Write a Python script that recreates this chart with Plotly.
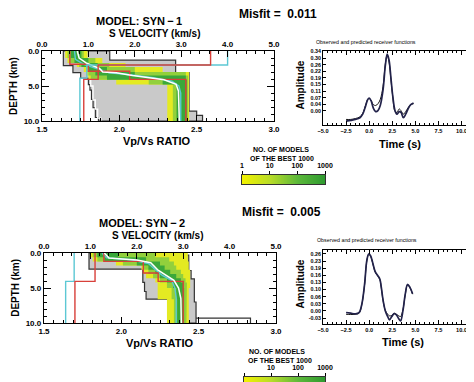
import plotly.graph_objects as go

W, H = 474, 382
FONT = "Liberation Sans, Arial, Helvetica, sans-serif"

# ====================== DATA ======================
# ---------- SYN-1 : S-velocity ensemble bands (km/s) ----------
syn1_band_depth = [0.0, 1.0, 1.7, 2.3, 3.0, 3.5, 4.1, 4.8, 10.0]
syn1_yellow_lo = [0.50, 0.55, 0.75, 0.90, 0.95, 1.00, 1.60, 2.70]
syn1_yellow_hi = [0.98, 1.30, 1.80, 2.60, 3.17, 3.17, 3.17, 3.17]
syn1_lgreen_lo = [0.55, 0.60, 0.80, 0.95, 1.00, 1.05, 2.30, 2.82]
syn1_lgreen_hi = [0.90, 1.15, 1.45, 2.00, 3.10, 3.15, 3.15, 3.15]
syn1_dgreen_lo = [0.62, 0.70, 0.85, 1.00, 1.15, 1.40, 2.60, 2.90]
syn1_dgreen_hi = [0.85, 1.00, 1.20, 1.40, 2.00, 3.10, 3.12, 3.12]
# best (white) and cyan S-velocity profiles
syn1_best_v = [0.76, 0.80, 0.95, 1.09, 1.24, 1.31, 1.60, 1.95, 2.31, 2.63, 2.89, 2.94, 2.96]
syn1_best_d = [0.0, 1.0, 1.7, 2.1, 2.5, 3.0, 3.1, 3.5, 3.86, 4.1, 4.76, 5.7, 10.0]
syn1_scyan_v = [0.70, 0.72, 0.90, 1.10, 1.30, 1.45, 1.90, 2.40, 2.80, 2.95, 2.99, 2.99]
syn1_scyan_d = [0.0, 1.2, 1.9, 2.3, 2.7, 3.1, 3.4, 3.8, 4.3, 5.0, 6.0, 10.0]
# red S-velocity model (layers)
syn1_sred_depth = [0.0, 1.9, 2.9, 4.05, 10.0]
syn1_sred_v = [0.60, 1.00, 1.89, 3.10]
# Vp/Vs ensemble envelope (gray) per layer
syn1_env_depth = [0.0, 1.3, 2.1, 3.1, 3.9, 4.8, 5.6, 6.9, 8.1, 8.6, 9.2, 9.5, 10.0]
syn1_env_lo = [1.638, 1.638, 1.70, 1.75, 1.80, 1.81, 1.82, 1.83, 1.845, 1.845, 1.845, 1.865]
syn1_env_hi = [1.938, 2.364, 2.364, 2.451, 2.451, 2.451, 2.451, 2.451, 2.451, 2.50, 2.538, 2.538]
# best Vp/Vs (white, jagged)
syn1_rbest_depth = [3.9, 5.0, 7.0, 8.3, 9.6, 10.0]
syn1_rbest_r = [1.815, 1.83, 1.845, 1.86, 1.88]
# red / cyan Vp/Vs models (layers)
syn1_rred_depth = [0.0, 2.0, 4.05, 10.0]
syn1_rred_r = [2.59, 1.863, 1.77]
syn1_rcyan_depth = [0.0, 2.0, 3.9, 10.0]
syn1_rcyan_r = [2.70, 1.79, 1.745]

# ---------- SYN-2 ----------
syn2_band_depth = [0.0, 0.6, 1.2, 1.8, 2.4, 3.0, 3.6, 4.2, 5.0, 6.6, 10.0]
syn2_yellow_lo = [1.00, 1.05, 1.55, 2.10, 2.15, 2.20, 2.40, 2.45, 2.45, 2.65]
syn2_yellow_hi = [3.10, 3.10, 3.12, 3.12, 3.15, 3.15, 3.15, 3.15, 3.12, 3.12]
syn2_lgreen_lo = [1.05, 1.15, 1.70, 2.15, 2.25, 2.35, 2.50, 2.65, 2.75, 2.80]
syn2_lgreen_hi = [2.40, 2.70, 2.80, 2.85, 2.95, 3.00, 3.05, 3.08, 3.08, 3.07]
syn2_dgreen_lo = [1.15, 1.30, 2.00, 2.25, 2.40, 2.50, 2.65, 2.78, 2.85, 2.87]
syn2_dgreen_hi = [1.60, 2.20, 2.50, 2.60, 2.72, 2.85, 2.95, 3.00, 3.02, 3.02]
syn2_best_v = [1.30, 1.40, 2.00, 2.30, 2.45, 2.65, 2.80, 2.90, 2.95, 2.96]
syn2_best_d = [0.0, 0.7, 1.0, 1.4, 2.4, 3.2, 3.9, 5.0, 6.5, 10.0]
syn2_scyan_v = [1.25, 1.35, 1.90, 2.25, 2.40, 2.55, 2.75, 2.82, 2.85, 2.85]
syn2_scyan_d = [0.0, 0.7, 1.0, 1.5, 2.4, 3.2, 3.9, 5.0, 6.5, 10.0]
syn2_sred_depth = [0.0, 1.19, 2.86, 4.05, 10.0]
syn2_sred_v = [1.29, 2.14, 2.46, 3.00]
syn2_env_depth = [0.0, 0.3, 2.3, 2.5, 3.7, 4.2, 5.5, 6.6, 7.0, 9.3, 10.0]
syn2_env_lo = [1.791, 1.791, 2.139, 2.139, 2.139, 2.15, 2.16, 2.334, 2.334, 2.334]
syn2_env_hi = [2.418, 2.436, 2.436, 2.451, 2.472, 2.472, 2.472, 2.472, 2.483, 2.483]
syn2_box_r = [2.483, 2.835, 2.835]
syn2_box_d = [9.3, 9.3, 10.0]
syn2_rred_depth = [0.0, 4.05, 10.0]
syn2_rred_r = [1.83, 1.70]
syn2_rcyan_depth = [0.0, 4.05, 10.0]
syn2_rcyan_r = [1.695, 1.64]

# ---------- receiver functions ----------
rf1_t = [-2.5, -2.0, -1.5, -1.0, -0.7, -0.4, -0.15, 0.0, 0.2, 0.45, 0.7, 0.95, 1.2, 1.5,
         1.75, 1.95, 2.15, 2.35, 2.55, 2.8, 3.0, 3.25, 3.45, 3.7, 3.95, 4.25, 4.5, 4.8]
rf1_obs = [-0.060, -0.055, -0.050, -0.040, -0.020, 0.025, 0.065, 0.073, 0.058, 0.015, -0.005,
           0.000, 0.030, 0.120, 0.260, 0.325, 0.290, 0.190, 0.085, 0.000, -0.020, -0.005,
           -0.010, -0.040, -0.020, 0.015, 0.035, 0.045]
rf1_pred = [-0.050, -0.050, -0.045, -0.035, -0.015, 0.030, 0.066, 0.070, 0.060, 0.035, 0.030,
            0.040, 0.065, 0.140, 0.270, 0.320, 0.280, 0.180, 0.080, -0.005, -0.010, 0.010,
            0.000, -0.020, -0.005, 0.020, 0.035, 0.040]
rf2_t = [-2.5, -2.0, -1.5, -1.1, -0.8, -0.5, -0.25, -0.05, 0.15, 0.4, 0.65, 0.9, 1.15, 1.3,
         1.5, 1.75, 2.0, 2.2, 2.45, 2.7, 2.95, 3.2, 3.4, 3.65, 3.9, 4.15, 4.4, 4.7]
rf2_obs = [-0.007, -0.010, -0.013, -0.008, 0.030, 0.120, 0.230, 0.258, 0.250, 0.215, 0.178,
           0.162, 0.145, 0.110, 0.050, 0.000, -0.025, -0.040, -0.025, -0.012, -0.018, -0.035,
           -0.045, 0.000, 0.075, 0.120, 0.108, 0.078]
rf2_pred = [-0.015, -0.016, -0.015, -0.010, 0.028, 0.118, 0.228, 0.256, 0.248, 0.213, 0.176,
            0.160, 0.143, 0.108, 0.048, 0.002, -0.015, -0.022, -0.020, -0.010, -0.015, -0.022,
            -0.025, 0.005, 0.072, 0.118, 0.106, 0.076]
rf1_ytickvals = [0.0, 0.038, 0.075, 0.113, 0.151, 0.189, 0.226, 0.264, 0.302, 0.34]
rf1_yticktext = ["0.00", "0.04", "0.07", "0.11", "0.15", "0.19", "0.22", "0.26", "0.30", "0.34"]
rf2_ytickvals = [-0.032, 0.0, 0.032, 0.064, 0.097, 0.129, 0.161, 0.193, 0.226, 0.258]
rf2_yticktext = ["-0.03", "0.00", "0.03", "0.06", "0.10", "0.13", "0.16", "0.19", "0.23", "0.26"]

# colour bar (log10 of number of models)
cb_log = [0, 1, 2, 3]
cb_labels_top = ["1", "10", "100", "1000"]
cb_labels_bot = ["", "10", "100", "1000"]

# ====================== STYLE ======================
YELLOW = "#e4ea22"
LGREEN = "#92d03c"
DGREEN = "#3aa83a"
GRAY = "#c9c9c9"
RED = "#d8403a"
CYAN = "#5cc8d4"
CSCALE = [[0, "#f2f200"], [0.33, "#b8dc28"], [0.67, "#5cb83a"], [1, "#2e9a30"]]


def steps_poly(depths, lo, hi):
    xs, ys = [], []
    for i in range(len(lo)):
        xs += [hi[i], hi[i]]
        ys += [depths[i], depths[i + 1]]
    for i in range(len(lo) - 1, -1, -1):
        xs += [lo[i], lo[i]]
        ys += [depths[i + 1], depths[i]]
    xs.append(xs[0]); ys.append(ys[0])
    return xs, ys


def steps_line(depths, vals):
    xs, ys = [], []
    for i, v in enumerate(vals):
        xs += [v, v]
        ys += [depths[i], depths[i + 1]]
    return xs, ys


fig = go.Figure()


def add_model_panel(xr, xv, xo, yy, band_d, bands, env, env_line_extra, rbest,
                    rcyan, rred, scyan, sred, best):
    ex, ey = steps_poly(*env)
    fig.add_trace(go.Scatter(x=ex, y=ey, xaxis=xr, yaxis=yy, mode="lines", fill="toself",
                             fillcolor=GRAY, line=dict(color="#333333", width=1.2),
                             hoverinfo="skip"))
    if env_line_extra is not None:
        fig.add_trace(go.Scatter(x=env_line_extra[0], y=env_line_extra[1], xaxis=xr, yaxis=yy,
                                 mode="lines", line=dict(color="#333333", width=1.2),
                                 hoverinfo="skip"))
    if rbest is not None:
        bx, by = steps_line(*rbest)
        fig.add_trace(go.Scatter(x=bx, y=by, xaxis=xr, yaxis=yy, mode="lines",
                                 line=dict(color="white", width=1.3), hoverinfo="skip"))
    for (lo, hi), col in zip(bands, [YELLOW, LGREEN, DGREEN]):
        px_, py_ = steps_poly(band_d, lo, hi)
        fig.add_trace(go.Scatter(x=px_, y=py_, xaxis=xv, yaxis=yy, mode="lines", fill="toself",
                                 fillcolor=col, line=dict(width=0), hoverinfo="skip"))
    fig.add_trace(go.Scatter(x=scyan[0], y=scyan[1], xaxis=xv, yaxis=yy, mode="lines",
                             line=dict(color=CYAN, width=1.4), hoverinfo="skip"))
    sx, sy = steps_line(*sred)
    fig.add_trace(go.Scatter(x=sx, y=sy, xaxis=xv, yaxis=yy, mode="lines",
                             line=dict(color=RED, width=1.4), hoverinfo="skip"))
    fig.add_trace(go.Scatter(x=best[0], y=best[1], xaxis=xv, yaxis=yy, mode="lines",
                             line=dict(color="white", width=1.5), hoverinfo="skip"))
    cx, cy = steps_line(*rcyan)
    fig.add_trace(go.Scatter(x=cx, y=cy, xaxis=xo, yaxis=yy, mode="lines",
                             line=dict(color=CYAN, width=1.4), hoverinfo="skip"))
    rx, ry = steps_line(*rred)
    fig.add_trace(go.Scatter(x=rx, y=ry, xaxis=xo, yaxis=yy, mode="lines",
                             line=dict(color=RED, width=1.4), hoverinfo="skip"))


add_model_panel("x", "x2", "x3", "y", syn1_band_depth,
                [(syn1_yellow_lo, syn1_yellow_hi), (syn1_lgreen_lo, syn1_lgreen_hi),
                 (syn1_dgreen_lo, syn1_dgreen_hi)],
                (syn1_env_depth, syn1_env_lo, syn1_env_hi), None,
                (syn1_rbest_depth, syn1_rbest_r),
                (syn1_rcyan_depth, syn1_rcyan_r), (syn1_rred_depth, syn1_rred_r),
                (syn1_scyan_v, syn1_scyan_d), (syn1_sred_depth, syn1_sred_v),
                (syn1_best_v, syn1_best_d))
add_model_panel("x4", "x5", "x6", "y2", syn2_band_depth,
                [(syn2_yellow_lo, syn2_yellow_hi), (syn2_lgreen_lo, syn2_lgreen_hi),
                 (syn2_dgreen_lo, syn2_dgreen_hi)],
                (syn2_env_depth, syn2_env_lo, syn2_env_hi), (syn2_box_r, syn2_box_d),
                None,
                (syn2_rcyan_depth, syn2_rcyan_r), (syn2_rred_depth, syn2_rred_r),
                (syn2_scyan_v, syn2_scyan_d), (syn2_sred_depth, syn2_sred_v),
                (syn2_best_v, syn2_best_d))

for xa, ya, t, obs, pred in [("x7", "y3", rf1_t, rf1_obs, rf1_pred),
                             ("x8", "y4", rf2_t, rf2_obs, rf2_pred)]:
    fig.add_trace(go.Scatter(x=t, y=pred, xaxis=xa, yaxis=ya, mode="lines", line_shape="spline",
                             line=dict(color="#111111", width=1.0), hoverinfo="skip"))
    fig.add_trace(go.Scatter(x=t, y=obs, xaxis=xa, yaxis=ya, mode="lines", line_shape="spline",
                             line=dict(color="#22224a", width=1.7), hoverinfo="skip"))

for xa, ya in [("x9", "y5"), ("x10", "y6")]:
    fig.add_trace(go.Heatmap(z=[cb_log, cb_log], x=cb_log, y=[-0.5, 0.5], xaxis=xa, yaxis=ya,
                             zsmooth="best", colorscale=CSCALE, zmin=0, zmax=3,
                             showscale=False, hoverinfo="skip"))


def px_x(a, b):
    return [a / W, b / W]


def px_y(top, bot):
    return [1 - bot / H, 1 - top / H]


tickf = dict(family=FONT, size=8, color="black", weight="bold")
small_tf = dict(family=FONT, size=5.3, color="black", weight="bold")
base_axis = dict(showgrid=False, zeroline=False, showline=True, linecolor="black",
                 linewidth=1.3, ticks="inside", tickcolor="black", automargin=False)

layout_axes = {}
nx_ref = {"": "x", "2": "x2", "3": "x3", "4": "x4", "5": "x5", "6": "x6"}
ny_ref = {"": "y", "2": "y2"}


def model_axes(nr, nv, no, ny, xdom, ydom):
    layout_axes["xaxis" + nr] = dict(base_axis, domain=xdom, range=[1.5, 3.0], anchor=ny_ref[ny],
                                     tick0=1.5, dtick=0.5, tickformat=".1f", ticklen=6,
                                     tickfont=tickf,
                                     minor=dict(ticks="inside", ticklen=3, dtick=0.0625,
                                                tick0=1.5, tickcolor="black"))
    layout_axes["xaxis" + nv] = dict(base_axis, range=[0, 5], overlaying=nx_ref[nr],
                                     anchor=ny_ref[ny], side="top", dtick=1, tickformat=".1f",
                                     ticklen=6, tickfont=tickf,
                                     minor=dict(ticks="inside", ticklen=3, dtick=0.2,
                                                tickcolor="black"))
    layout_axes["xaxis" + no] = dict(range=[1.5, 3.0], overlaying=nx_ref[nr], anchor=ny_ref[ny],
                                     visible=False, automargin=False)
    layout_axes["yaxis" + ny] = dict(base_axis, domain=ydom, range=[10, 0], anchor=nx_ref[nr],
                                     dtick=5, tickformat=".1f", ticklen=7, mirror="ticks",
                                     tickfont=tickf,
                                     minor=dict(ticks="inside", ticklen=3, dtick=1,
                                                tickcolor="black"))


model_axes("", "2", "3", "", px_x(34, 266), px_y(43, 113))
model_axes("4", "5", "6", "2", px_x(36, 268), px_y(245, 315))

for nx, ny, ydom, yr, tv, tt in [("7", "3", px_y(43, 117), [-0.082, 0.343], rf1_ytickvals, rf1_yticktext),
                                  ("8", "4", px_y(242, 316), [-0.059, 0.276], rf2_ytickvals, rf2_yticktext)]:
    layout_axes["xaxis" + nx] = dict(base_axis, domain=px_x(315, 472.5), range=[-5, 12.05],
                                     anchor="y" + ny, tick0=-5, dtick=2.5, tickformat=".1f",
                                     ticklen=4, linewidth=1.1, mirror="ticks",
                                     tickfont=dict(small_tf, size=5.6),
                                     minor=dict(ticks="inside", ticklen=2, dtick=0.5,
                                                tickcolor="black"))
    layout_axes["yaxis" + ny] = dict(base_axis, domain=ydom, range=yr, anchor="x" + nx,
                                     tickvals=tv, ticktext=tt, ticklen=3, linewidth=1.1,
                                     mirror="ticks", tickfont=small_tf)

for nx, ny, xdom, ydom, labels in [("9", "5", px_x(234, 317), px_y(167, 176), cb_labels_top),
                                   ("10", "6", px_x(236, 317), px_y(369, 379), cb_labels_bot)]:
    layout_axes["xaxis" + nx] = dict(showgrid=False, zeroline=False, showline=True,
                                     linecolor="#333333", linewidth=1, mirror=True,
                                     domain=xdom, range=[0, 3], anchor="y" + ny, side="top",
                                     tickvals=cb_log, ticktext=labels, ticks="outside",
                                     ticklen=3, tickcolor="black", automargin=False,
                                     tickfont=dict(family=FONT, size=7, color="black",
                                                   weight="bold"))
    layout_axes["yaxis" + ny] = dict(showgrid=False, zeroline=False, showline=True,
                                     linecolor="#333333", linewidth=1, mirror=True,
                                     domain=ydom, range=[-0.5, 0.5], anchor="x" + nx,
                                     showticklabels=False, ticks="", automargin=False)

annotations = []


def ann(text, x, y, size, bold=True, angle=0):
    annotations.append(dict(text=text, x=x / W, y=1 - y / H, xref="paper", yref="paper",
                            showarrow=False, xanchor="center", yanchor="middle",
                            textangle=angle,
                            font=dict(family=FONT, size=size, color="black",
                                      weight="bold" if bold else "normal")))


for dy, dx, name, mis in [(0, 0, "SYN\u2009\u2212\u20091", "0.011"),
                          (202, 3, "SYN\u2009\u2212\u20092", "0.005")]:
    ann("Misfit = \u00a0" + mis, 270 + dx, 6 + dy * 0.98, 12)
    ann("MODEL: " + name, 131 + dx, 13 + dy, 11)
    ann("S VELOCITY (km/s)", 146.5 + dx, 25.5 + dy, 10)
    ann("DEPTH (km)", 5 + dx * 0.6, 78 + dy, 10, angle=-90)
    ann("Vp/Vs RATIO", 148 + dx, 132.5 + dy, 11)
    ann("Observed and predicted receiver functions", 358 + dx * 0.3, 34.3 + dy * 0.98, 5.3, bold=False)
    ann("Amplitude", 292.5, 77 + dy * 0.985, 10, angle=-90)
    ann("Time (s)", 391.5 + dx, 135.5 + dy * 0.985, 11)

ann("NO. OF MODELS", 273, 141.7, 7)
ann("OF THE BEST 1000", 274, 150, 7)
ann("NO. OF MODELS", 269, 343.5, 7)
ann("OF THE BEST 1000", 271.5, 352, 7)

fig.update_layout(width=W, height=H, margin=dict(l=0, r=0, t=0, b=0),
                  paper_bgcolor="white", plot_bgcolor="white", showlegend=False,
                  annotations=annotations, font=dict(family=FONT), **layout_axes)

fig.write_html("out.html")
